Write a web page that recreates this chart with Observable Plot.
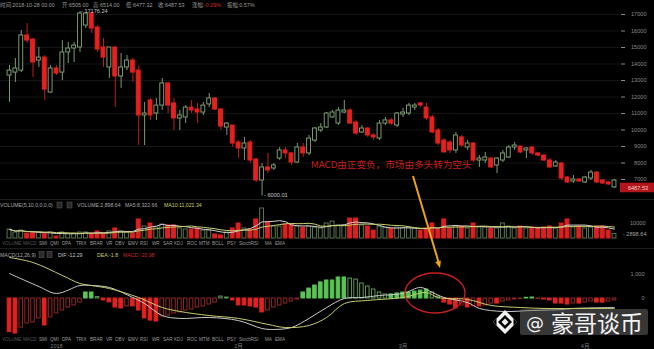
<!DOCTYPE html>
<html><head><meta charset="utf-8">
<script src="https://cdn.jsdelivr.net/npm/d3@7"></script>
<script src="https://cdn.jsdelivr.net/npm/@observablehq/plot@0.6"></script>
<style>
html,body{margin:0;padding:0;background:#000;}
#chart{position:relative;width:654px;height:349px;background:#000;overflow:hidden;}
#chart svg{position:absolute;left:0;top:0;}
</style></head><body>
<div id="chart"></div>
<script>
// ---- data ----
const opens  = [13300,13480,13600,15730,15480,14210,14390,12270,13730,13480,14700,14940,15000,16330,17060,16210,15000,13790,15000,13240,13790,14210,13600,10880,11790,11000,11480,12820,11610,10700,10760,11360,11240,11060,11550,11910,11240,10150,10270,9240,8880,9240,8210,6940,7730,7670,8270,8760,8580,8030,8940,8580,9360,9970,10150,10760,10390,11060,11180,10450,9850,10090,9670,9480,10390,10580,10270,10940,11000,11360,11610,11360,10760,9970,9360,9240,8760,9550,8940,9180,8150,8150,8270,7850,8150,8330,8940,9000,8760,8940,8580,8450,8150,7790,7970,7120,6880,7000,6820,7060,7420,6940,6820,6520];
const highs  = [13910,14330,16030,16450,15550,15000,14510,13910,13900,15420,15300,15300,17176.24,17120,17120,16330,15550,15000,15050,14640,14510,14330,13910,11670,11900,11910,13120,12880,11910,11180,11480,11790,11610,11670,12210,11970,11300,10450,10270,9360,9550,9360,8270,7970,8580,7970,8940,8940,8640,9180,9180,9670,10150,10390,11060,11180,11360,11790,11300,10580,10270,10150,9790,10580,10760,10700,11060,11300,11610,11610,11670,11610,10880,10090,9480,9360,9850,9670,9360,9240,8450,8640,8330,8330,8760,9060,9240,9000,8940,8940,8640,8510,8270,8150,8030,7180,7240,7060,7180,7550,7480,7000,6880,7000];
const lows   = [11670,12880,13480,15240,13180,13790,11790,12210,13300,13000,14030,14090,14700,16150,15850,14700,13790,13120,11360,12520,13600,12880,9060,9060,10580,10580,11180,11000,9970,9970,10390,11000,10390,10880,11360,11180,9970,9670,8940,8270,8150,7970,6820,6000.01,7360,7550,8150,8270,7850,7970,8330,8450,9240,9850,10090,10700,10270,11000,10390,9670,9790,9550,9360,9360,10270,10270,10150,10760,10880,11180,11360,10580,9790,9060,8640,8580,8580,8940,8760,8030,7730,7970,7670,7360,8030,8270,8760,8580,8270,8450,8390,8090,7670,7730,6940,6760,6760,6820,6760,6940,6760,6700,6640,6460];
const closes = [13600,13730,15730,15420,14090,14390,12450,13730,13420,14700,14940,15120,17060,17060,16150,14880,14390,15000,13240,13790,14210,13480,10880,11000,10880,11480,12820,11480,10700,10880,11360,11180,11060,11480,11910,11240,10210,10390,9180,8880,9180,8150,6940,7730,7550,7850,8760,8580,8030,8940,8580,9480,10090,10150,11000,11060,11180,11180,10390,9790,10090,9670,9550,10390,10580,10390,11000,11060,11480,11480,11480,10700,9850,9180,8640,8760,9670,9060,9180,8150,8270,8330,7730,8270,8580,8940,9060,8640,8880,8580,8450,8150,7730,8030,7060,6820,7000,6880,7120,7420,6820,6760,6700,6940];
const volumes = [6000,4000,5300,3300,4000,4000,3300,4000,1300,4000,3300,3300,4000,4000,3300,4700,3300,4700,6700,4700,4000,3300,12700,8000,10000,7300,9300,8700,8700,6700,6000,6000,6700,5300,5300,2700,2000,4000,6700,10000,6700,6000,12700,20000,10700,8000,8000,9300,9300,8000,7300,8000,7300,6700,10000,11300,8700,8700,13300,13300,8700,8000,5300,8000,7300,6700,7300,6700,7300,6700,5300,6700,10000,6000,12700,6700,8000,8000,6700,10000,7300,7300,6700,6700,10000,8000,6700,8000,6700,7300,6700,7300,8000,6700,10000,12700,7300,8000,6700,7300,8000,8000,5300,2898.64];
const macdHist = [-1400,-1460,-1210,-1040,-1000,-830,-1125,-790,-625,-500,-375,-290,-170,250,250,60,-80,-160,-375,-415,-330,-330,-500,-830,-920,-960,-750,-710,-625,-580,-500,-460,-375,-330,-250,-170,80,40,-80,-290,-290,-330,-375,-580,-500,-375,-290,-210,-125,-40,250,415,540,670,750,750,875,875,830,790,625,500,375,250,170,170,210,250,250,290,330,375,250,80,-170,-250,-415,-290,-375,-330,-330,-290,-210,-210,-125,-80,-40,-20,30,40,-20,-40,-80,-210,-210,-250,-210,-210,-170,-125,-170,-170,-125,-80];
const difIdx  = [0,5,8,12,14,17,21,23,26,29,34,39,43,45,48,51,54,57,60,63,67,70,72,74,78,80,84,89,94,96,103];
const difVals = [1040,500,210,540,540,460,40,-210,-710,-830,-790,-920,-1250,-1290,-1210,-830,-375,0,40,125,210,460,250,40,-170,-415,-540,-500,-460,-415,-375];
const deaIdx  = [0,4,9,12,14,17,22,26,29,34,39,44,47,51,54,57,61,67,71,73,78,82,87,91,96,103];
const deaVals = [1710,1500,960,625,540,415,40,-375,-540,-710,-830,-1080,-1210,-1125,-790,-210,-80,40,250,40,-40,-290,-375,-415,-415,-415];
const lastPrice = 6487.53;
const priceTicks = [7000,8000,9000,10000,11000,12000,13000,14000,15000,16000,17000];
const volTicks = [10000];
const macdTicks = [0,1000];
const dateIdx = [8,39,67,98];
const dateLabels = ["2018","2月","3月","4月"];
const tabLabels = ["VOLUME","MACD","SMI","QMI","DPA","TRIX","BRAR","VR","OBV","EMV","RSI","WR","SAR","KDJ","ROC","MTM","BOLL","PSY","StochRSI","MA","EMA"];
const headerItems = ["时间:2018-10-28 00:00","开:6505.00","高:6514.00","低:6477.32","收:6487.53","涨幅:","-0.29%","振幅:0.57%"];
const volTitle = ["VOLUME(5,10,0,0,0,0)","VOLUME:2,898.64","MA5:8,322.66","MA10:11,021.34"];
const macdTitle = ["MACD(12,26,9)","DIF:-12.29","DEA:-1.8","MACD:-20.98"];
const note = "MACD由正变负，市场由多头转为空头";
const mark = "豪哥谈币";

// ---- build ----
const n = closes.length;
const candles = d3.range(n).map(i => ({i, o: opens[i], h: highs[i], l: lows[i], c: closes[i], up: closes[i] >= opens[i], v: volumes[i], m: macdHist[i],
  grow: i === 0 || Math.abs(macdHist[i]) >= Math.abs(macdHist[i-1])}));
const RED = "#e3211f", REDW = "#bf1d1d", GRN = "#7a9b72", VGRN = "#58754f";
const W = 654, H = 349;
const X = {domain: [0, n - 1], range: [9, 614], axis: null};
const hw = 0.33;
const base = {width: W, height: H, marginLeft: 0, marginRight: 34, marginTop: 0, marginBottom: 0,
  style: {background: "none", color: "#8c8c8c", fontFamily: "Liberation Sans, Noto Sans CJK SC, sans-serif", overflow: "visible"},
  color: {type: "identity"}, x: X};
const chart = document.getElementById("chart");

const main = Plot.plot({...base,
  y: {domain: [7000, 17000], range: [179, 14], axis: null},
  marks: [
    Plot.ruleY(priceTicks, {stroke: "#151515"}),
    Plot.axisY(priceTicks, {anchor: "right", tickSize: 4, tickPadding: 22, textAnchor: "end", fontSize: 5.6, color: "#8a8a8a", label: null, tickFormat: d => String(d)}),
    Plot.ruleX(candles, {x: "i", y1: "l", y2: "h", stroke: d => d.up ? GRN : REDW, strokeWidth: 1}),
    Plot.rect(candles, {x1: d => d.i - hw, x2: d => d.i + hw, y1: "o", y2: "c", fill: d => d.up ? "#000" : RED, stroke: d => d.up ? GRN : RED, strokeWidth: 1}),
    Plot.text([candles[d3.maxIndex(highs)]], {x: "i", y: "h", text: d => "- " + d.h.toFixed(2), textAnchor: "start", dx: 1, fontSize: 5.6, fill: "#c4c4c4"}),
    Plot.text([candles[d3.minIndex(lows)]], {x: "i", y: "l", text: d => "- " + d.l.toFixed(2), textAnchor: "start", dx: 2, dy: -1, fontSize: 5.6, fill: "#c4c4c4"}),
    Plot.rect([lastPrice], {x1: n, x2: n + 6, y1: d => d - 290, y2: d => d + 290, fill: "#b3151c"}),
    Plot.text([lastPrice], {x: n + 3, y: d => d, text: d => d.toFixed(2), fontSize: 5.6, fill: "#f5d0d0"})
  ]});

const vol = Plot.plot({...base,
  y: {domain: [0, 10000], range: [238, 223], axis: null},
  marks: [
    Plot.rect(candles, {x1: d => d.i - hw, x2: d => d.i + hw, y1: 0, y2: "v", fill: d => d.up ? "#000" : "#dc1f1f", stroke: d => d.up ? VGRN : "#dc1f1f", strokeWidth: 1}),
    Plot.lineY(candles, Plot.windowY({k: 5, anchor: "end"}, {x: "i", y: "v", stroke: "#d0d0d0", strokeWidth: 1})),
    Plot.lineY(candles, Plot.windowY({k: 10, anchor: "end"}, {x: "i", y: "v", stroke: "#c8cf6e", strokeWidth: 1})),
    Plot.axisY(volTicks, {anchor: "right", tickSize: 0, tickPadding: 25, textAnchor: "end", fontSize: 5.6, color: "#8a8a8a", label: null, tickFormat: d => String(d)}),
    Plot.text([volumes[n - 1]], {frameAnchor: "right", y: d => d, text: d => "- " + d.toFixed(2), textAnchor: "end", dx: 26, fontSize: 5.6, fill: "#a0a0a0"})
  ]});

const difPts = difIdx.map((i, k) => ({i, v: difVals[k]}));
const deaPts = deaIdx.map((i, k) => ({i, v: deaVals[k]}));
const dates = dateIdx.map((i, k) => ({i, label: dateLabels[k]}));
const macd = Plot.plot({...base,
  y: {domain: [0, 1000], range: [298, 274], axis: null},
  marks: [
    Plot.rect(candles, {x1: d => d.i - 0.3, x2: d => d.i + 0.3, y1: 0, y2: "m",
      fill: d => d.grow ? (d.m >= 0 ? "#58c553" : "#e3211f") : "#000",
      stroke: d => d.m >= 0 ? (d.grow ? "#58c553" : "#5c9a56") : (d.grow ? "#e3211f" : "#8e2626"), strokeWidth: 1}),
    Plot.line(difPts, {x: "i", y: "v", stroke: "#c9c9c9", strokeWidth: 1, curve: "catmull-rom"}),
    Plot.line(deaPts, {x: "i", y: "v", stroke: "#c6cc6a", strokeWidth: 1, curve: "catmull-rom"}),
    Plot.axisY(macdTicks, {anchor: "right", tickSize: 0, tickPadding: 24, textAnchor: "end", fontSize: 5.6, color: "#8a8a8a", label: null, tickFormat: d3.format(",")}),
    Plot.text(dates, {x: "i", text: "label", frameAnchor: "bottom", lineAnchor: "top", dy: -5, fontSize: 5.6, fill: "#7a7a7a"})
  ]});

chart.append(main, vol, macd);

// ---- overlay: titles, tabs, annotation, watermark ----
const ov = d3.create("svg").attr("width", W).attr("height", H).attr("viewBox", `0 0 ${W} ${H}`)
  .style("font-family", "Liberation Sans, Noto Sans CJK SC, sans-serif");
const T = (x, y, s, size = 5.2, fill = "#9a9a9a", fam) => {
  const t = ov.append("text").attr("x", x).attr("y", y).attr("dominant-baseline", "central")
    .attr("font-size", size).attr("fill", fill).text(s);
  if (fam) t.attr("font-family", fam);
  return t;
};
ov.append("line").attr("x1", 0).attr("x2", W).attr("y1", 199.5).attr("y2", 199.5).attr("stroke", "#1d1d1d");
ov.append("line").attr("x1", 0).attr("x2", W).attr("y1", 248.5).attr("y2", 248.5).attr("stroke", "#1d1d1d");

const hx = [0, 62, 93, 126, 158, 192, 204, 227];
headerItems.forEach((s, k) => T(hx[k], 4.5, s, 5.4, k === 6 ? "#d42a2a" : "#9d9d9d"));

const vx = [0, 77, 125, 164];
volTitle.forEach((s, k) => T(vx[k], 205, s, 5.2, k === 3 ? "#c9cf6d" : "#a8a8a8"));
[57, 67].forEach(x => ov.append("rect").attr("x", x).attr("y", 202).attr("width", 5).attr("height", 6).attr("fill", "#2a2a2a").attr("stroke", "#555").attr("stroke-width", 0.6));

const mx = [0, 58, 97, 123];
const mc = ["#a8a8a8", "#c4c4c4", "#c9cf6d", "#c42a2a"];
macdTitle.forEach((s, k) => T(mx[k], 254.5, s, 5.2, mc[k]));
[39, 47].forEach(x => ov.append("rect").attr("x", x).attr("y", 251.5).attr("width", 5).attr("height", 6).attr("fill", "#2a2a2a").attr("stroke", "#555").attr("stroke-width", 0.6));

const tx = [2, 23, 39, 50, 62, 76, 90, 106, 115, 128, 140, 152, 163, 174, 187, 199, 212, 227, 239, 265, 275];
[243.5, 339.5].forEach(y => tabLabels.forEach((s, k) => T(tx[k], y, s, 4.6, k < 2 ? "#555" : "#9a9a9a")));

// annotation
T(311, 164, note, 9.6, "#c81e1e", "Noto Sans CJK SC, sans-serif");
ov.append("line").attr("x1", 413).attr("y1", 176).attr("x2", 438.5).attr("y2", 262).attr("stroke", "#eaa31b").attr("stroke-width", 2);
ov.append("polygon").attr("points", "440,268 435.2,262.1 440.9,260.5").attr("fill", "#eaa31b");
ov.append("ellipse").attr("cx", 435).attr("cy", 293).attr("rx", 30).attr("ry", 20).attr("fill", "none").attr("stroke", "#c92020").attr("stroke-width", 1.3);

// watermark
ov.append("rect").attr("x", 520).attr("y", 309).attr("width", 128).attr("height", 26).attr("rx", 2).attr("fill", "rgba(110,110,110,0.5)");
const g = ov.append("g").attr("transform", "translate(505,322)").attr("fill", "#f0f0f0");
g.append("path").attr("d", "M0,-12 L12,0 L0,12 L-12,0 Z M0,-7 L-7,0 L0,7 L7,0 Z").attr("fill-rule", "evenodd");
g.append("path").attr("d", "M0,-3.5 L3.5,0 L0,3.5 L-3.5,0 Z");
g.append("path").attr("d", "M-12,0 L-8.5,-3.5 L-8.5,3.5 Z M12,0 L8.5,-3.5 L8.5,3.5 Z").attr("fill", "#000");
T(526, 322, "@", 18, "#f2f2f2", "DejaVu Sans, sans-serif");
T(551, 322, mark, 23, "#f2f2f2", "Noto Sans CJK SC, sans-serif");

chart.append(ov.node());
</script>
</body></html>
